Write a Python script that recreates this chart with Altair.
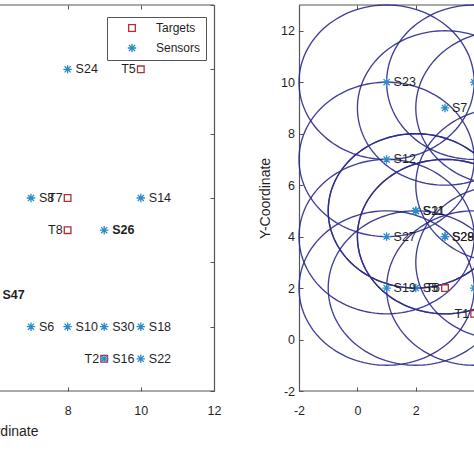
import math

import altair as alt
import pandas as pd

# ---------------- data ----------------
# left panel: targets and the sensors placed around them
left_sensor_names = ["S24", "S8", "S14", "S26", "S47", "S6", "S10", "S30", "S18", "S16", "S22"]
left_sensor_x = [8, 7, 10, 9, 6, 7, 8, 9, 10, 9, 10]
left_sensor_y = [10, 6, 6, 5, 3, 2, 2, 2, 2, 1, 1]
left_target_names = ["T5", "T7", "T8", "T2"]
left_target_x = [10, 8, 8, 9]
left_target_y = [10, 6, 5, 1]

# right panel: sensors with their sensing ranges
right_sensor_names = ["S23", "S7", "S1", "S12", "S21", "S11", "S27", "S28", "S29",
                      "S19", "S5", "S3", "S9", "S14", "S2"]
right_sensor_x = [1, 3, 4, 1, 2, 2, 1, 3, 3, 1, 2, 4, 5, 5, 5]
right_sensor_y = [10, 9, 10, 7, 5, 5, 4, 4, 4, 2, 2, 2, 9, 6, 3]
right_target_names = ["T6", "T1"]
right_target_x = [3, 4]
right_target_y = [2, 1]
sensing_radius = 3

left_x_ticks = [0, 2, 4, 6, 8, 10, 12]
left_y_ticks = [0, 2, 4, 6, 8, 10, 12]
right_x_ticks = [-2, 0, 2, 4, 6, 8, 10, 12]
right_y_ticks = [-2, 0, 2, 4, 6, 8, 10, 12]
bold_labels = ["S47", "S26"]

KINDS = ["Targets", "Sensors"]

# ---------------- style ----------------
FONT = "Liberation Sans"
INK = "#1f1f1f"
FRAME = "#555555"
RED = "#b03030"
BLUE = "#2e8bc9"
RING = "#2a2a8c"
ASTERISK = "M0,-1L0,1M-1,0L1,0M-0.72,-0.72L0.72,0.72M-0.72,0.72L0.72,-0.72"
PLAIN_NUMBER = "'' + datum.value"   # ASCII hyphen for negative tick labels

# ---------------- geometry ----------------
W, H = 474, 386
L_EDGE_PX, L_UNIT_PX = 214, 36.6     # right border of the left axes, px per unit
R_EDGE_PX, R_UNIT_PX = 299, 29.2     # left border of the right axes, px per unit
lx_min = 12 - L_EDGE_PX / L_UNIT_PX
lx_max = lx_min + W / L_UNIT_PX
rx_min = -2 - R_EDGE_PX / R_UNIT_PX
rx_max = rx_min + W / R_UNIT_PX

xL = alt.Scale(domain=[lx_min, lx_max], nice=False, zero=False)
yL = alt.Scale(domain=[0, 12], nice=False, zero=False)
xR = alt.Scale(domain=[rx_min, rx_max], nice=False, zero=False)
yR = alt.Scale(domain=[-2, 13], nice=False, zero=False)


def table(names, xs, ys, kind):
    return pd.DataFrame({"name": names, "x": xs, "y": ys, "kind": kind,
                         "bold": [n in bold_labels for n in names]})


left_sensors = table(left_sensor_names, left_sensor_x, left_sensor_y, "Sensors")
left_targets = table(left_target_names, left_target_x, left_target_y, "Targets")
right_sensors = table(right_sensor_names, right_sensor_x, right_sensor_y, "Sensors")
right_targets = table(right_target_names, right_target_x, right_target_y, "Targets")

ring_rows = []
for name, cx, cy in zip(right_sensor_names, right_sensor_x, right_sensor_y):
    for k in range(145):
        a = 2 * math.pi * k / 144
        ring_rows.append({"sensor": name, "k": k,
                          "x": cx + sensing_radius * math.cos(a),
                          "y": cy + sensing_radius * math.sin(a)})
rings = pd.DataFrame(ring_rows)
one = pd.DataFrame({"edge": ["frame"]})


def axis(orient, values, offset=0, labels=False, ticks=False, domain=False, **kw):
    return alt.Axis(orient=orient, values=values, offset=offset, labels=labels,
                    ticks=ticks, domain=domain, grid=False, tickSize=4, tickWidth=1,
                    tickColor=FRAME, domainColor=FRAME, domainWidth=1.2,
                    labelFont=FONT, labelFontSize=12.5, labelColor=INK,
                    labelFlush=False, labelOverlap=False, labelExpr=PLAIN_NUMBER, **kw)


legend = alt.Legend(orient="none", legendX=107, legendY=12, title=None,
                    strokeColor=FRAME, fillColor="white", padding=5,
                    labelFont=FONT, labelFontSize=12, labelColor=INK,
                    labelOffset=18, symbolOffset=14, rowPadding=7,
                    symbolStrokeWidth=1.3)


def markers(df, xs, ys, x_axis):
    return alt.Chart(df).mark_point(filled=False, strokeWidth=1.3, opacity=1).encode(
        x=alt.X("x:Q", scale=xs, axis=x_axis, title=None),
        y=alt.Y("y:Q", scale=ys, axis=None),
        color=alt.Color("kind:N", scale=alt.Scale(domain=KINDS, range=[RED, BLUE]), legend=legend),
        shape=alt.Shape("kind:N", scale=alt.Scale(domain=KINDS, range=["square", ASTERISK]), legend=legend),
        size=alt.Size("kind:N", scale=alt.Scale(domain=KINDS, range=[44, 72]), legend=legend),
    )


def names(df, xs, ys, align, dx):
    base = alt.Chart(df).encode(
        x=alt.X("x:Q", scale=xs, axis=None),
        y=alt.Y("y:Q", scale=ys, axis=None),
        text="name:N",
    )
    style = dict(align=align, dx=dx, baseline="middle", font=FONT, fontSize=12.5, color=INK)
    normal = base.mark_text(**style).transform_filter("!datum.bold")
    heavy = base.mark_text(fontWeight="bold", **style).transform_filter("datum.bold")
    return normal + heavy


def edge(xs, ys, x0, x1, y, x_axis, y_axis):
    return alt.Chart(one).mark_rule(color=FRAME, strokeWidth=1.2).encode(
        x=alt.XDatum(x0, type="quantitative", scale=xs, axis=x_axis),
        x2=alt.X2Datum(x1),
        y=alt.YDatum(y, type="quantitative", scale=ys, axis=y_axis),
    )


# ---------------- left axes ----------------
left_bottom = edge(
    xL, yL, lx_min, 12, 0,
    axis("bottom", left_x_ticks, labels=True, labelPadding=13.5,
         title="X-Coordinate", titleX=38, titleY=44, titleAlign="right",
         titleBaseline="alphabetic", titleFont=FONT, titleFontSize=14,
         titleFontWeight="normal", titleColor=INK),
    axis("left", left_y_ticks, offset=-L_EDGE_PX, ticks=True, domain=True, title=None),
)
left_top = edge(xL, yL, lx_min, 12, 12,
                axis("bottom", left_x_ticks, offset=-H, ticks=True, title=None), None)

left = alt.layer(
    left_bottom,
    left_top,
    markers(pd.concat([left_targets, left_sensors]), xL, yL,
            axis("top", left_x_ticks, offset=-H, ticks=True, title=None)),
    names(left_sensors, xL, yL, "left", 8),
    names(left_targets, xL, yL, "right", -5),
).resolve_axis(x="independent", y="independent")

# ---------------- right axes ----------------
right_bottom = edge(
    xR, yR, -2, rx_max, -2,
    axis("bottom", right_x_ticks, labels=True, labelPadding=13.5, title=None),
    axis("left", right_y_ticks, offset=-R_EDGE_PX, labels=True, domain=True,
         labelPadding=4.5, title="Y-Coordinate", titleFont=FONT, titleFontSize=14,
         titleFontWeight="normal", titleColor=INK, titlePadding=8),
)
right_top = edge(
    xR, yR, -2, rx_max, 13,
    axis("bottom", right_x_ticks, offset=-H, ticks=True, title=None),
    axis("right", right_y_ticks, offset=-(W - R_EDGE_PX), ticks=True, title=None),
)
ranges = alt.Chart(rings).mark_line(color=RING, strokeWidth=1.35, opacity=0.9).encode(
    x=alt.X("x:Q", scale=xR, axis=axis("top", right_x_ticks, offset=-H, ticks=True, title=None)),
    y=alt.Y("y:Q", scale=yR, axis=None),
    detail="sensor:N",
    order="k:Q",
)

right = alt.layer(
    right_bottom,
    right_top,
    ranges,
    markers(pd.concat([right_targets, right_sensors]), xR, yR, None),
    names(right_sensors, xR, yR, "left", 7),
    names(right_targets, xR, yR, "right", -5),
).resolve_axis(x="independent", y="independent")

chart = (
    alt.layer(left, right)
    .resolve_scale(x="independent", y="independent")
    .properties(width=W, height=H, autosize=alt.AutoSizeParams(type="none"),
                padding={"left": 0, "right": 0, "top": 5, "bottom": 83},
                background="white")
    .configure_view(stroke="transparent")
)

chart.save("out.html", embed_options={"renderer": "svg", "actions": False})
